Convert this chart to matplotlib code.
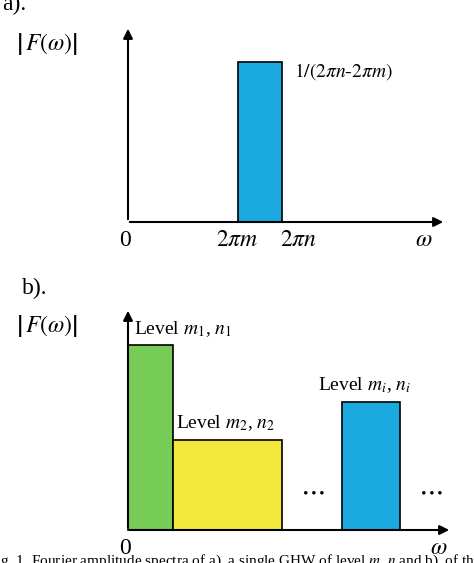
import matplotlib as mpl
mpl.use('Agg')
import matplotlib.pyplot as plt

plt.rcParams['font.family'] = ['Liberation Serif', 'DejaVu Serif']
plt.rcParams['mathtext.fontset'] = 'stix'

# panel a: single band (pixel-space layout of the figure)
a_left = [238]
a_right = [282]
a_top = [62]
a_colors = ['#1aaae0']

# panel b: several levels
b_left = [128, 173, 342]
b_right = [173, 282, 400]
b_top = [345, 440, 402]
b_colors = ['#77cc55', '#f2e93c', '#1aaae0']
b_labels = ['Level $m_1$, $n_1$', 'Level $m_2$, $n_2$', 'Level $m_i$, $n_i$']

fig = plt.figure(figsize=(4.74, 5.63), dpi=100)
ax = fig.add_axes([0, 0, 1, 1])
ax.set_xlim(0, 474)
ax.set_ylim(563, 0)
ax.axis('off')

def axes_arrows(x0, y0, ytop, xend):
    ax.annotate('', xy=(x0, ytop), xytext=(x0, y0),
                arrowprops=dict(arrowstyle='-|>', color='black', lw=1.5, mutation_scale=14))
    ax.annotate('', xy=(xend, y0), xytext=(x0 - 1, y0),
                arrowprops=dict(arrowstyle='-|>', color='black', lw=1.5, mutation_scale=14))

fs = 17
# panel a
ax.text(2, 4, 'a).', fontsize=fs, va='center')
for l, r, t, c in zip(a_left, a_right, a_top, a_colors):
    ax.bar(l, t - 222, width=r - l, bottom=222, align='edge', color=c, edgecolor='black', lw=1.2)
axes_arrows(128, 222, 26, 446)
ax.text(16, 44, r'$\left|\,F(\omega)\right|$', fontsize=fs, va='center')
ax.text(294, 72, r'$1/(2\pi n$-$2\pi m)$', fontsize=14, va='center')
ax.text(125, 241, '0', fontsize=fs, va='center', ha='center')
ax.text(237, 241, r'$2\pi m$', fontsize=fs, va='center', ha='center')
ax.text(298, 241, r'$2\pi n$', fontsize=fs, va='center', ha='center')
ax.text(424, 241, r'$\omega$', fontsize=fs, va='center', ha='center')

# panel b
ax.text(22, 288, 'b).', fontsize=fs, va='center')
for l, r, t, c in zip(b_left, b_right, b_top, b_colors):
    ax.bar(l, t - 530, width=r - l, bottom=530, align='edge', color=c, edgecolor='black', lw=1.2)
ax.text(134, 329, b_labels[0], fontsize=14, va='center')
ax.text(176, 423, b_labels[1], fontsize=14, va='center')
ax.text(318, 385, b_labels[2], fontsize=14, va='center')
ax.text(312, 492, r'$\cdots$', fontsize=20, ha='center', va='center')
ax.text(430, 492, r'$\cdots$', fontsize=20, ha='center', va='center')
axes_arrows(128, 530, 308, 452)
ax.text(16, 326, r'$\left|\,F(\omega)\right|$', fontsize=fs, va='center')
ax.text(125, 548, '0', fontsize=fs, va='center', ha='center')
ax.text(439, 548, r'$\omega$', fontsize=fs, va='center', ha='center')
ax.text(-12, 561, 'Fig. 1. Fourier amplitude spectra of a), a single GHW of level $m$, $n$ and b), of the GHW',
        fontsize=11, va='center')

fig.savefig('out.png', dpi=100)
